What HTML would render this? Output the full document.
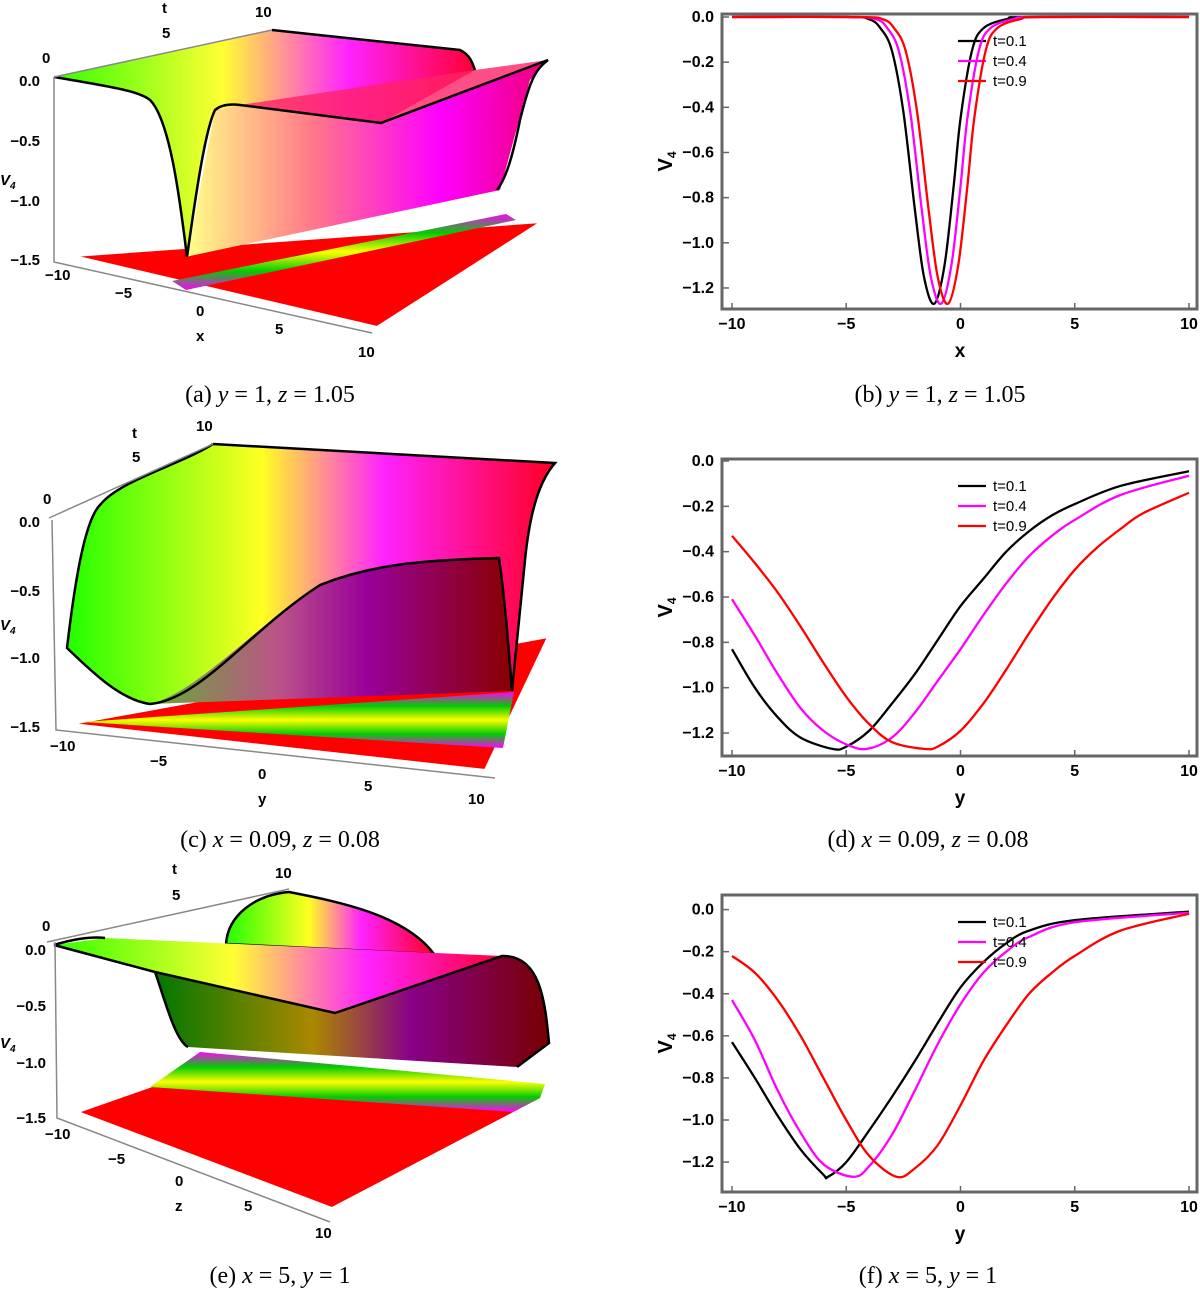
<!DOCTYPE html>
<html><head><meta charset="utf-8"><style>
body{margin:0;background:#fff;width:1200px;height:1290px;overflow:hidden;font-family:"Liberation Sans",sans-serif}
svg{position:absolute;left:0;top:0}
.cap{font-family:"Liberation Serif",serif;font-size:24px}
.tk{font-weight:bold;font-size:15px}
</style></head><body>
<svg id="s" width="1200" height="1290">
<defs>
<linearGradient id="gTop" x1="0" x2="1" y1="0" y2="0"><stop offset="0" stop-color="#3f0"/><stop offset="0.4" stop-color="#ff3"/><stop offset="0.7" stop-color="#f2f"/><stop offset="1" stop-color="#f03"/></linearGradient>
<linearGradient id="gA" x1="0" x2="1"><stop offset="0" stop-color="#ff8"/><stop offset="0.35" stop-color="#f78"/><stop offset="0.7" stop-color="#f0f"/><stop offset="1" stop-color="#e07"/></linearGradient>
<linearGradient id="gC" x1="0" x2="1"><stop offset="0" stop-color="#2f0"/><stop offset="0.4" stop-color="#ff2"/><stop offset="0.65" stop-color="#f2f"/><stop offset="1" stop-color="#f02"/></linearGradient>
<linearGradient id="gDark" x1="0" x2="1"><stop offset="0" stop-color="#6a3"/><stop offset="0.35" stop-color="#b58"/><stop offset="0.6" stop-color="#909"/><stop offset="1" stop-color="#800"/></linearGradient>
<linearGradient id="gE" x1="0" x2="1"><stop offset="0" stop-color="#070"/><stop offset="0.4" stop-color="#a80"/><stop offset="0.65" stop-color="#808"/><stop offset="1" stop-color="#700"/></linearGradient>
<linearGradient id="gBand" x1="0" x2="0" y1="0" y2="1"><stop offset="0" stop-color="#f0f"/><stop offset="0.25" stop-color="#0c0"/><stop offset="0.5" stop-color="#ff0"/><stop offset="0.75" stop-color="#0c0"/><stop offset="1" stop-color="#f0f"/></linearGradient>
</defs>

<!-- Panel a -->
<g>
<polygon points="74,256 541,222 377,327" fill="red" stroke="#fff" stroke-width="2"/>
<polygon points="172,281 506,214 516,220 186,290" fill="url(#gBand)"/>
<path d="M187,257 L215,110 L240,105 L381,123 L548,60 L530,80 L500,190 L190,256 Z" fill="url(#gA)"/>
<path d="M54,77 L272,30 L460,50 C470,55 472,62 475,70 L381,123 L240,105 L215,110 C205,130 195,200 187,257 C180,200 170,120 150,100 C140,92 120,88 54,77 Z" fill="url(#gTop)"/>
<path d="M240,105 L475,70 L548,60 L381,123 Z" fill="#f26" opacity="0.8"/>
<path d="M54,77 C120,88 140,92 150,100 C170,120 180,200 187,257 C195,200 205,130 215,110 C222,104 232,104 240,105 L381,123 L548,60 C535,70 530,80 520,120 C512,160 505,180 497,190" fill="none" stroke="#000" stroke-width="2.5"/>
<path d="M272,30 L460,50 C470,55 472,62 475,70" fill="none" stroke="#000" stroke-width="2.5"/>
<path d="M54,77 L272,30 M54,77 L54,262 L372,333" fill="none" stroke="#888" stroke-width="1.5"/>
<g class="tk">
<text x="162" y="13">t</text><text x="255" y="17">10</text><text x="162" y="38">5</text><text x="42" y="63">0</text>
<text x="40" y="86" text-anchor="end">0.0</text><text x="40" y="146" text-anchor="end">−0.5</text><text x="40" y="206" text-anchor="end">−1.0</text><text x="40" y="265" text-anchor="end">−1.5</text>
<text x="0" y="185" font-style="italic">V<tspan font-size="10" dy="4">4</tspan></text>
<text x="45" y="280">−10</text><text x="115" y="298">−5</text><text x="196" y="316">0</text><text x="275" y="334">5</text><text x="358" y="357">10</text><text x="196" y="341">x</text>
</g></g>

<!-- Panel c -->
<g>
<polygon points="72,724 548,637 485,770" fill="red" stroke="#fff" stroke-width="2"/>
<polygon points="83,722 514,692 503,748" fill="url(#gBand)"/>
<path d="M150,704 C200,690 250,630 320,585 C370,565 420,560 499,558 L512,691 Z" fill="url(#gDark)"/>
<path d="M213,444 L555,463 C540,480 530,510 525,560 L512,691 L499,558 C420,560 370,565 320,585 C250,630 200,690 150,704 C120,700 90,670 67,648 C75,580 85,520 100,505 C120,480 180,465 213,444 Z" fill="url(#gC)"/>
<path d="M213,444 L555,463 C540,480 530,510 525,560 L512,691 C508,640 505,600 499,558 C420,560 370,565 320,585 C250,630 200,700 150,704 C120,700 90,670 67,648 C75,580 85,520 100,505 C120,480 180,465 213,444" fill="none" stroke="#000" stroke-width="2.5"/>
<path d="M49,518 L213,444 M52,520 L56,730 L495,778" fill="none" stroke="#888" stroke-width="1.5"/>
<g class="tk">
<text x="132" y="438">t</text><text x="196" y="431">10</text><text x="132" y="462">5</text><text x="43" y="504">0</text>
<text x="40" y="527" text-anchor="end">0.0</text><text x="40" y="596" text-anchor="end">−0.5</text><text x="40" y="663" text-anchor="end">−1.0</text><text x="40" y="732" text-anchor="end">−1.5</text>
<text x="0" y="630" font-style="italic">V<tspan font-size="10" dy="4">4</tspan></text>
<text x="50" y="751">−10</text><text x="150" y="766">−5</text><text x="258" y="779">0</text><text x="364" y="791">5</text><text x="468" y="804">10</text><text x="258" y="804">y</text>
</g></g>

<!-- Panel e -->
<g>
<polygon points="78,1112 155,1085 544,1097 332,1208" fill="red" stroke="#fff" stroke-width="2"/>
<polygon points="150,1087 200,1052 545,1084 540,1098 513,1112" fill="url(#gBand)"/>
<path d="M226,944 C228,915 255,895 289,892 C340,902 405,915 434,954 Z" fill="url(#gC)" stroke="#000" stroke-width="2.5"/>
<path d="M155,972 C165,1000 175,1040 188,1047 L517,1067 L549,1043 C545,1000 540,965 515,957 L502,956 L335,1013 Z" fill="url(#gE)"/>
<path d="M54,945 L105,938 L502,956 L335,1013 L155,972 Z" fill="url(#gTop)"/>
<path d="M54,945 L155,972 L335,1013 L502,956 C540,955 545,1000 549,1043 L517,1067 M155,972 C165,1000 175,1040 188,1047 M54,945 C70,940 90,936 105,938" fill="none" stroke="#000" stroke-width="2.5"/>
<path d="M47,942 L289,889 M55,942 L57,1118 L330,1222" fill="none" stroke="#888" stroke-width="1.5"/>
<g class="tk">
<text x="172" y="874">t</text><text x="275" y="878">10</text><text x="172" y="900">5</text><text x="42" y="931">0</text>
<text x="46" y="955" text-anchor="end">0.0</text><text x="46" y="1011" text-anchor="end">−0.5</text><text x="46" y="1068" text-anchor="end">−1.0</text><text x="46" y="1123" text-anchor="end">−1.5</text>
<text x="0" y="1048" font-style="italic">V<tspan font-size="10" dy="4">4</tspan></text>
<text x="45" y="1139">−10</text><text x="108" y="1164">−5</text><text x="175" y="1186">0</text><text x="244" y="1211">5</text><text x="315" y="1238">10</text><text x="175" y="1211">z</text>
</g></g>

<g class="cap">
<text x="270" y="402" text-anchor="middle">(a) <tspan font-style="italic">y</tspan> = 1, <tspan font-style="italic">z</tspan> = 1.05</text>
<text x="940" y="402" text-anchor="middle">(b) <tspan font-style="italic">y</tspan> = 1, <tspan font-style="italic">z</tspan> = 1.05</text>
<text x="280" y="847" text-anchor="middle">(c) <tspan font-style="italic">x</tspan> = 0.09, <tspan font-style="italic">z</tspan> = 0.08</text>
<text x="928" y="847" text-anchor="middle">(d) <tspan font-style="italic">x</tspan> = 0.09, <tspan font-style="italic">z</tspan> = 0.08</text>
<text x="280" y="1283" text-anchor="middle">(e) <tspan font-style="italic">x</tspan> = 5, <tspan font-style="italic">y</tspan> = 1</text>
<text x="928" y="1283" text-anchor="middle">(f) <tspan font-style="italic">x</tspan> = 5, <tspan font-style="italic">y</tspan> = 1</text>
</g>
<g id="charts"></g>
</svg>
<script>
// Panel b data (x, V4)
const bX_black=[-10,-5,-4,-3.5,-3,-2.5,-2,-1.6,-1.15,-0.7,-0.3,0,0.5,1,2,3,10];
const bY_black=[0,0,-0.01,-0.05,-0.15,-0.42,-0.85,-1.15,-1.27,-1.1,-0.75,-0.45,-0.15,-0.05,-0.01,0,0];
const bX_mag=[-10,-5,-3.7,-3.2,-2.7,-2.2,-1.7,-1.3,-0.85,-0.4,0,0.3,0.8,1.3,2.3,3.3,10];
const bY_mag=[0,0,-0.01,-0.05,-0.15,-0.42,-0.85,-1.15,-1.27,-1.1,-0.75,-0.45,-0.15,-0.05,-0.01,0,0];
const bX_red=[-10,-4.5,-3.4,-2.9,-2.4,-1.9,-1.4,-1.0,-0.55,-0.1,0.3,0.6,1.1,1.6,2.6,3.6,10];
const bY_red=[0,0,-0.01,-0.05,-0.15,-0.42,-0.85,-1.15,-1.27,-1.1,-0.75,-0.45,-0.15,-0.05,-0.01,0,0];
// Panel d data (y, V4)
const dX_black=[-10,-9,-8,-7,-5.6,-5,-4,-3,-2,-1,0,1,2,3,4,5,7,10];
const dY_black=[-0.83,-1.0,-1.13,-1.22,-1.27,-1.26,-1.19,-1.07,-0.94,-0.79,-0.64,-0.52,-0.40,-0.31,-0.24,-0.19,-0.11,-0.045];
const dX_mag=[-10,-9,-8,-7,-6,-5,-4.1,-3,-2,-1,0,1,2,3,4,5,7,10];
const dY_mag=[-0.61,-0.77,-0.94,-1.09,-1.19,-1.25,-1.27,-1.22,-1.11,-0.97,-0.83,-0.68,-0.54,-0.42,-0.33,-0.26,-0.15,-0.065];
const dX_red=[-10,-9,-8,-7,-6,-5,-4,-3,-1.6,-1,0,1,2,3,4,5,6,7,8,10];
const dY_red=[-0.33,-0.45,-0.58,-0.73,-0.89,-1.04,-1.16,-1.24,-1.27,-1.26,-1.19,-1.07,-0.92,-0.76,-0.61,-0.48,-0.38,-0.30,-0.23,-0.14];
// Panel f data (y, V4)
const fX_black=[-10,-9,-8,-7,-6,-5.8,-5,-4,-3,-2,-1,0,1,2,3,5,10];
const fY_black=[-0.63,-0.80,-0.98,-1.14,-1.26,-1.27,-1.2,-1.05,-0.89,-0.72,-0.54,-0.37,-0.25,-0.16,-0.1,-0.05,-0.01];
const fX_mag=[-10,-9,-8,-7,-6,-4.7,-4,-3,-2,-1,0,1,2,3,5,10];
const fY_mag=[-0.43,-0.62,-0.86,-1.06,-1.21,-1.27,-1.22,-1.07,-0.86,-0.64,-0.45,-0.3,-0.2,-0.13,-0.06,-0.015];
const fX_red=[-10,-9,-8,-7,-6,-5,-4,-2.8,-2,-1,0,1,2,3,4,5,7,10];
const fY_red=[-0.22,-0.3,-0.43,-0.6,-0.8,-1.0,-1.17,-1.27,-1.23,-1.12,-0.93,-0.72,-0.55,-0.4,-0.3,-0.22,-0.1,-0.02];
const xTicks=[-10,-5,0,5,10];
const yTicks=[0,-0.2,-0.4,-0.6,-0.8,-1.0,-1.2];
const legendLabels=["t=0.1","t=0.4","t=0.9"];
const colors=["#000","#f0f","#f00"];

const NS="http://www.w3.org/2000/svg";
const root=document.getElementById('charts');
function mk(tag,attrs,parent){const e=document.createElementNS(NS,tag);for(const k in attrs)e.setAttribute(k,attrs[k]);parent.appendChild(e);return e;}
function smooth(pts){let d="M"+pts[0][0]+","+pts[0][1];for(let i=0;i<pts.length-1;i++){const p0=pts[Math.max(i-1,0)],p1=pts[i],p2=pts[i+1],p3=pts[Math.min(i+2,pts.length-1)];
d+=" C"+(p1[0]+(p2[0]-p0[0])/6)+","+(p1[1]+(p2[1]-p0[1])/6)+" "+(p2[0]-(p3[0]-p1[0])/6)+","+(p2[1]-(p3[1]-p1[1])/6)+" "+p2[0]+","+p2[1];}return d;}
function chart(name,top,bottom,y0,yPerUnit,xlab,series){
 const g=mk('g',{},root);
 
 
 const sx=v=>960.5+v*22.85, sy=v=>y0-v*yPerUnit;
 const fr=mk('rect',{x:722,y:top,width:475,height:bottom-top,fill:'none',stroke:'#666','stroke-width':3},g);
 
 
 xTicks.forEach(t=>{mk('line',{x1:sx(t),x2:sx(t),y1:bottom,y2:bottom-6,stroke:'#666','stroke-width':1.5},g);
  const tx=mk('text',{x:sx(t),y:bottom+20,'text-anchor':'middle','font-weight':'bold','font-size':'16'},g);tx.textContent=(t<0?'−':'')+Math.abs(t);
  
  });
 yTicks.forEach(t=>{mk('line',{x1:722,x2:729,y1:sy(t),y2:sy(t),stroke:'#666','stroke-width':1.5},g);
  const tx=mk('text',{x:714,y:sy(t)+5,'text-anchor':'end','font-weight':'bold','font-size':'16'},g);tx.textContent=(t<0?'−':'')+Math.abs(t).toFixed(1);
  
  });
 const xl=mk('text',{x:960,y:bottom+48,'text-anchor':'middle','font-weight':'bold','font-size':'19'},g);xl.textContent=xlab;
 
 
 const yc=(top+bottom)/2;
 const yl=mk('text',{x:0,y:0,transform:`translate(672,${yc}) rotate(-90)`,'text-anchor':'middle','font-weight':'bold','font-size':'20'},g);yl.innerHTML='V<tspan font-size="12" dy="4">4</tspan>';
 
 
 series.forEach((s,i)=>{const pts=s[0].map((x,j)=>[sx(x),sy(s[1][j])]);
  const p=mk('path',{d:smooth(pts),fill:'none',stroke:colors[i],'stroke-width':2.3},g);
  
  
  const ly=top+27+i*20;
  const ll=mk('line',{x1:958,x2:986,y1:ly,y2:ly,stroke:colors[i],'stroke-width':2.3},g);
  
  
  const lt=mk('text',{x:993,y:ly+5,'font-size':'15'},g);lt.textContent=legendLabels[i];
  
  });
}
chart('chart-b',14,309,17,225.8,'x',[[bX_black,bY_black],[bX_mag,bY_mag],[bX_red,bY_red]]);
chart('chart-d',459,756,461,226.7,'y',[[dX_black,dY_black],[dX_mag,dY_mag],[dX_red,dY_red]]);
chart('chart-f',895,1192,909.6,210.4,'y',[[fX_black,fY_black],[fX_mag,fY_mag],[fX_red,fY_red]]);
</script>
</body></html>
